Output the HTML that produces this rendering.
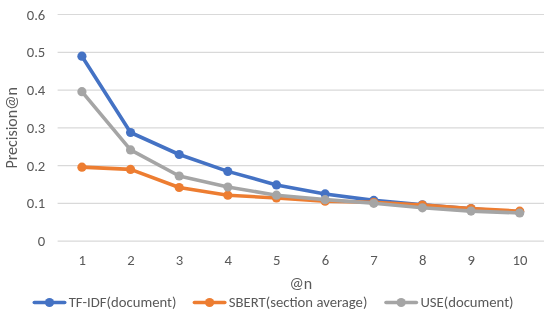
<!DOCTYPE html>
<html><head><meta charset="utf-8"><style>
html,body{margin:0;padding:0;background:#fff;}
svg{display:block;}
text{font-family:"Carlito", "Liberation Sans", sans-serif;fill:#595959;}
.t{font-size:14.7px;}
.l{font-size:14.7px;}
.a{font-size:16px;}
</style></head><body>
<svg width="550" height="315" viewBox="0 0 550 315">
<rect width="550" height="315" fill="#fff"/>
<line x1="57.6" x2="544.0" y1="241.20" y2="241.20" stroke="#D9D9D9" stroke-width="1.2"/>
<line x1="57.6" x2="544.0" y1="203.42" y2="203.42" stroke="#D9D9D9" stroke-width="1.2"/>
<line x1="57.6" x2="544.0" y1="165.63" y2="165.63" stroke="#D9D9D9" stroke-width="1.2"/>
<line x1="57.6" x2="544.0" y1="127.85" y2="127.85" stroke="#D9D9D9" stroke-width="1.2"/>
<line x1="57.6" x2="544.0" y1="90.07" y2="90.07" stroke="#D9D9D9" stroke-width="1.2"/>
<line x1="57.6" x2="544.0" y1="52.28" y2="52.28" stroke="#D9D9D9" stroke-width="1.2"/>
<line x1="57.6" x2="544.0" y1="14.50" y2="14.50" stroke="#D9D9D9" stroke-width="1.2"/>
<text class="t" x="45.3" y="246.20" text-anchor="end" textLength="7.45" lengthAdjust="spacingAndGlyphs">0</text>
<text class="t" x="45.3" y="208.42" text-anchor="end" textLength="18.61" lengthAdjust="spacingAndGlyphs">0.1</text>
<text class="t" x="45.3" y="170.63" text-anchor="end" textLength="18.61" lengthAdjust="spacingAndGlyphs">0.2</text>
<text class="t" x="45.3" y="132.85" text-anchor="end" textLength="18.61" lengthAdjust="spacingAndGlyphs">0.3</text>
<text class="t" x="45.3" y="95.07" text-anchor="end" textLength="18.61" lengthAdjust="spacingAndGlyphs">0.4</text>
<text class="t" x="45.3" y="57.28" text-anchor="end" textLength="18.61" lengthAdjust="spacingAndGlyphs">0.5</text>
<text class="t" x="45.3" y="19.50" text-anchor="end" textLength="18.61" lengthAdjust="spacingAndGlyphs">0.6</text>
<text class="t" x="82.22" y="265" text-anchor="middle" textLength="7.45" lengthAdjust="spacingAndGlyphs">1</text>
<text class="t" x="130.86" y="265" text-anchor="middle" textLength="7.45" lengthAdjust="spacingAndGlyphs">2</text>
<text class="t" x="179.50" y="265" text-anchor="middle" textLength="7.45" lengthAdjust="spacingAndGlyphs">3</text>
<text class="t" x="228.14" y="265" text-anchor="middle" textLength="7.45" lengthAdjust="spacingAndGlyphs">4</text>
<text class="t" x="276.78" y="265" text-anchor="middle" textLength="7.45" lengthAdjust="spacingAndGlyphs">5</text>
<text class="t" x="325.42" y="265" text-anchor="middle" textLength="7.45" lengthAdjust="spacingAndGlyphs">6</text>
<text class="t" x="374.06" y="265" text-anchor="middle" textLength="7.45" lengthAdjust="spacingAndGlyphs">7</text>
<text class="t" x="422.70" y="265" text-anchor="middle" textLength="7.45" lengthAdjust="spacingAndGlyphs">8</text>
<text class="t" x="471.34" y="265" text-anchor="middle" textLength="7.45" lengthAdjust="spacingAndGlyphs">9</text>
<text class="t" x="519.98" y="265" text-anchor="middle" textLength="14.89" lengthAdjust="spacingAndGlyphs">10</text>
<polyline points="81.92,56.18 130.56,132.50 179.20,154.49 227.84,171.38 276.48,184.90 325.12,193.97 373.76,200.39 422.40,204.74 471.04,208.71 519.68,212.11" fill="none" stroke="#4472C4" stroke-width="3.6" stroke-linejoin="round" stroke-linecap="round"/><circle cx="81.92" cy="56.18" r="4.6" fill="#4472C4"/><circle cx="130.56" cy="132.50" r="4.6" fill="#4472C4"/><circle cx="179.20" cy="154.49" r="4.6" fill="#4472C4"/><circle cx="227.84" cy="171.38" r="4.6" fill="#4472C4"/><circle cx="276.48" cy="184.90" r="4.6" fill="#4472C4"/><circle cx="325.12" cy="193.97" r="4.6" fill="#4472C4"/><circle cx="373.76" cy="200.39" r="4.6" fill="#4472C4"/><circle cx="422.40" cy="204.74" r="4.6" fill="#4472C4"/><circle cx="471.04" cy="208.71" r="4.6" fill="#4472C4"/><circle cx="519.68" cy="212.11" r="4.6" fill="#4472C4"/>
<polyline points="81.92,167.14 130.56,169.41 179.20,187.51 227.84,195.18 276.48,198.01 325.12,201.15 373.76,202.28 422.40,205.00 471.04,208.52 519.68,211.20" fill="none" stroke="#ED7D31" stroke-width="3.6" stroke-linejoin="round" stroke-linecap="round"/><circle cx="81.92" cy="167.14" r="4.6" fill="#ED7D31"/><circle cx="130.56" cy="169.41" r="4.6" fill="#ED7D31"/><circle cx="179.20" cy="187.51" r="4.6" fill="#ED7D31"/><circle cx="227.84" cy="195.18" r="4.6" fill="#ED7D31"/><circle cx="276.48" cy="198.01" r="4.6" fill="#ED7D31"/><circle cx="325.12" cy="201.15" r="4.6" fill="#ED7D31"/><circle cx="373.76" cy="202.28" r="4.6" fill="#ED7D31"/><circle cx="422.40" cy="205.00" r="4.6" fill="#ED7D31"/><circle cx="471.04" cy="208.52" r="4.6" fill="#ED7D31"/><circle cx="519.68" cy="211.20" r="4.6" fill="#ED7D31"/>
<polyline points="81.92,91.69 130.56,149.88 179.20,175.99 227.84,186.98 276.48,195.18 325.12,199.64 373.76,203.30 422.40,207.80 471.04,211.09 519.68,213.01" fill="none" stroke="#A5A5A5" stroke-width="3.6" stroke-linejoin="round" stroke-linecap="round"/><circle cx="81.92" cy="91.69" r="4.6" fill="#A5A5A5"/><circle cx="130.56" cy="149.88" r="4.6" fill="#A5A5A5"/><circle cx="179.20" cy="175.99" r="4.6" fill="#A5A5A5"/><circle cx="227.84" cy="186.98" r="4.6" fill="#A5A5A5"/><circle cx="276.48" cy="195.18" r="4.6" fill="#A5A5A5"/><circle cx="325.12" cy="199.64" r="4.6" fill="#A5A5A5"/><circle cx="373.76" cy="203.30" r="4.6" fill="#A5A5A5"/><circle cx="422.40" cy="207.80" r="4.6" fill="#A5A5A5"/><circle cx="471.04" cy="211.09" r="4.6" fill="#A5A5A5"/><circle cx="519.68" cy="213.01" r="4.6" fill="#A5A5A5"/>
<text class="a" x="300.80" y="288.6" text-anchor="middle" textLength="22.72" lengthAdjust="spacingAndGlyphs">@n</text>
<text class="a" transform="translate(17.3,127.85) rotate(-90)" text-anchor="middle" textLength="81.52" lengthAdjust="spacingAndGlyphs">Precision@n</text>
<line x1="34.3" x2="64.7" y1="302.5" y2="302.5" stroke="#4472C4" stroke-width="3.6" stroke-linecap="round"/><circle cx="49.5" cy="302.5" r="4.6" fill="#4472C4"/><text class="l" x="68.7" y="307.2" textLength="107.73" lengthAdjust="spacingAndGlyphs">TF-IDF(document)</text>
<line x1="194.4" x2="224.79999999999998" y1="302.5" y2="302.5" stroke="#ED7D31" stroke-width="3.6" stroke-linecap="round"/><circle cx="209.6" cy="302.5" r="4.6" fill="#ED7D31"/><text class="l" x="228.8" y="307.2" textLength="138.58" lengthAdjust="spacingAndGlyphs">SBERT(section average)</text>
<line x1="386.0" x2="416.4" y1="302.5" y2="302.5" stroke="#A5A5A5" stroke-width="3.6" stroke-linecap="round"/><circle cx="401.2" cy="302.5" r="4.6" fill="#A5A5A5"/><text class="l" x="420.4" y="307.2" textLength="93.19" lengthAdjust="spacingAndGlyphs">USE(document)</text>
</svg>
</body></html>
